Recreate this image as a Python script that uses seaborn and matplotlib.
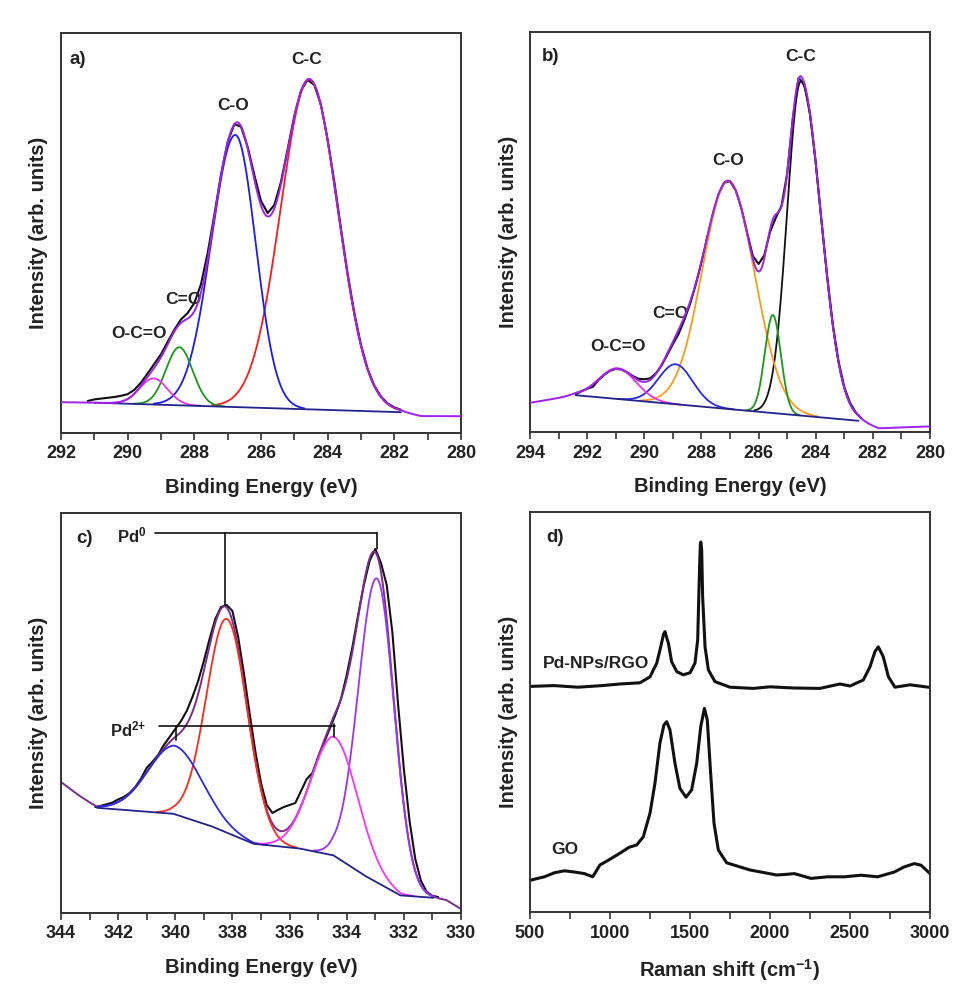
import numpy as np
import matplotlib
matplotlib.use("Agg")
import matplotlib.pyplot as plt
import seaborn as sns

sns.set_theme(style="white")
plt.rcParams['font.family'] = ['Liberation Sans', 'DejaVu Sans']
plt.rcParams['font.weight'] = 'bold'
plt.rcParams['mathtext.fontset'] = 'custom'
plt.rcParams['mathtext.rm'] = 'Liberation Sans:bold'
plt.rcParams['mathtext.bf'] = 'Liberation Sans:bold'
plt.rcParams['mathtext.it'] = 'Liberation Sans:bold'

# ---------------- Panel a: C1s (GO) ----------------
a_peak_names = ['C-C', 'C-O', 'C=O', 'O-C=O']
a_peak_center = [284.55, 286.77, 288.45, 289.22]
a_peak_height = [82.5, 68.0, 14.5, 6.5]
a_peak_sigma_hi = [0.86, 0.72, 0.40, 0.42]   # high binding-energy side
a_peak_sigma_lo = [0.86, 0.61, 0.40, 0.42]   # low binding-energy side
a_peak_color = ['#ff1a1a', '#1a1aff', '#1a9a1a', '#ee33ee']
a_base_x = [292.0, 291.1, 290.6, 281.8, 281.2, 280.0]
a_base_y = [7.7, 7.6, 7.5, 5.2, 4.2, 4.2]
a_data_x = [291.2, 291.0, 290.8, 290.6, 290.4, 290.2, 290.0, 289.8, 289.6, 289.4, 289.2,
            289.0, 288.8, 288.6, 288.4, 288.2, 288.0, 287.8, 287.6, 287.4, 287.2, 287.0,
            286.8, 286.6, 286.4, 286.2, 286.0, 285.8, 285.6, 285.4, 285.2, 285.0, 284.8,
            284.6, 284.4, 284.2, 284.0, 283.8, 283.6, 283.4, 283.2, 283.0, 282.8, 282.6,
            282.4, 282.2, 282.0, 281.8]
a_data_y = [8.0, 8.4, 8.6, 8.8, 9.0, 9.3, 9.7, 10.8, 12.6, 14.9, 17.3, 19.7, 22.8, 25.8,
            28.4, 30.0, 32.5, 37.2, 45.0, 54.5, 64.6, 72.8, 77.2, 76.6, 71.5, 64.5, 58.0,
            55.0, 57.0, 62.8, 71.0, 79.3, 85.6, 88.3, 87.0, 82.0, 73.3, 62.8, 51.0, 39.8,
            30.0, 22.0, 16.0, 11.8, 9.1, 7.4, 6.4, 5.8]
a_label_x = [284.62, 286.85, 288.32, 289.67]
a_label_y = [93.3, 82.0, 33.3, 25.0]

# ---------------- Panel b: C1s (Pd-NPs/RGO) ----------------
b_peak_names = ['C-C', 'C-O', 'C=O', 'O-C=O', '']
b_peak_center = [284.52, 287.06, 288.90, 290.93, 285.50]
b_peak_height = [83.5, 57.0, 10.0, 7.6, 24.5]
b_peak_sigma_hi = [0.48, 0.90, 0.60, 0.65, 0.28]
b_peak_sigma_lo = [0.70, 0.92, 0.60, 0.65, 0.28]
b_peak_color = ['#111111', '#ff9a1a', '#2a2aee', '#ee33ee', '#1a9a1a']
b_base_x = [294.0, 292.4, 282.5, 281.8, 280.0]
b_base_y = [7.3, 9.2, 2.8, 0.9, 1.4]
b_data_x = [292.4, 292.2, 292.0, 291.8, 291.6, 291.4, 291.2, 291.0, 290.8, 290.6, 290.4,
            290.2, 290.0, 289.8, 289.6, 289.4, 289.2, 289.0, 288.8, 288.6, 288.4, 288.2,
            288.0, 287.8, 287.6, 287.4, 287.2, 287.0, 286.8, 286.6, 286.4, 286.2, 286.0,
            285.8, 285.6, 285.4, 285.2, 285.0, 284.8, 284.6, 284.4, 284.2, 284.0, 283.8,
            283.6, 283.4, 283.2, 283.0, 282.8, 282.6, 282.4]
b_data_y = [9.4, 10.2, 10.8, 11.3, 13.0, 14.3, 15.3, 15.8, 15.6, 14.9, 14.0, 13.3, 13.2,
            13.4, 14.6, 16.6, 19.2, 22.0, 24.5, 28.0, 32.0, 36.8, 42.3, 48.5, 54.5, 59.4,
            62.3, 62.7, 60.4, 55.9, 49.8, 44.0, 42.0, 44.2, 50.0, 53.5, 56.5, 64.5, 78.5,
            88.5, 87.0, 79.6, 67.4, 53.0, 39.0, 26.8, 17.6, 11.2, 7.3, 4.9, 3.4]
b_label_x = [284.54, 287.06, 289.10, 290.93]
b_label_y = [93.9, 67.8, 29.7, 21.3]

# ---------------- Panel c: Pd3d ----------------
c_peak_center = [338.19, 340.00, 332.94, 334.42]
c_peak_height = [53.4, 17.1, 76.0, 29.8]
c_peak_sigma_hi = [0.72, 0.95, 0.65, 0.82]
c_peak_sigma_lo = [0.72, 0.95, 0.60, 0.82]
c_peak_color = ['#ff2a1a', '#2a2aee', '#9a33ff', '#ff33ff']
c_base_x = [344.0, 343.4, 342.74, 340.06, 338.66, 337.26, 335.62, 334.46, 333.29,
            332.12, 330.96, 330.5, 330.0]
c_base_y = [32.75, 29.5, 26.3, 24.8, 21.5, 17.3, 16.1, 14.4, 9.0, 4.4, 3.8, 3.2, 1.0]
c_data_x = [342.8, 342.6, 342.4, 342.2, 342.0, 341.8, 341.6, 341.4, 341.2, 341.0, 340.8,
            340.6, 340.4, 340.2, 340.0, 339.8, 339.6, 339.4, 339.2, 339.0, 338.8, 338.6,
            338.4, 338.2, 338.0, 337.8, 337.6, 337.4, 337.2, 337.0, 336.8, 336.6, 336.4,
            336.2, 336.0, 335.8, 335.6, 335.4, 335.2, 335.0, 334.8, 334.6, 334.4, 334.2,
            334.0, 333.8, 333.6, 333.4, 333.2, 333.0, 332.8, 332.6, 332.4, 332.2, 332.0,
            331.8, 331.6, 331.4, 331.2, 331.0, 330.8]
c_data_y = [26.5, 26.8, 27.2, 27.6, 28.4, 29.0, 30.0, 31.5, 33.6, 36.3, 37.8, 39.5, 42.0,
            44.0, 46.0, 48.0, 50.5, 54.0, 58.0, 63.0, 68.5, 73.5, 76.5, 77.0, 75.5, 69.0,
            60.0, 50.0, 40.5, 32.5, 27.0, 25.0, 25.8, 26.5, 27.0, 27.5, 30.5, 33.5, 35.0,
            39.0, 42.5, 46.0, 49.5, 53.5, 59.5, 66.5, 74.5, 82.0, 88.0, 91.0, 87.5, 82.0,
            70.0, 52.0, 36.0, 23.0, 13.5, 8.0, 5.3, 4.3, 4.0]

# ---------------- Panel d: Raman ----------------
d_rgo_x = [500, 650, 800, 950, 1062, 1187, 1250, 1292, 1317, 1335, 1344, 1355, 1365, 1385,
           1417, 1458, 1500, 1531, 1548, 1556, 1562, 1565, 1568, 1573, 1579, 1594, 1615,
           1656, 1750, 1896, 2000, 2150, 2312, 2437, 2500, 2583, 2625, 2656, 2677, 2708,
           2740, 2781, 2875, 2990, 3000]
d_rgo_y = [56.4, 56.6, 56.2, 56.6, 57.0, 57.3, 58.8, 62.2, 66.3, 69.5, 70.1, 68.5, 67.2,
           62.6, 60.1, 59.3, 59.8, 62.2, 68.0, 80.5, 89.0, 92.2, 92.5, 90.5, 78.8, 66.3,
           60.5, 57.6, 56.2, 55.9, 56.3, 56.0, 55.9, 57.0, 56.5, 58.0, 61.3, 65.1, 66.3,
           63.8, 58.8, 56.2, 56.8, 56.2, 56.2]
d_go_x = [500, 548, 590, 652, 715, 777, 840, 892, 937, 1000, 1062, 1120, 1167, 1208, 1250,
          1281, 1312, 1337, 1354, 1375, 1406, 1437, 1475, 1510, 1542, 1567, 1590, 1608,
          1629, 1650, 1677, 1729, 1875, 2042, 2100, 2152, 2256, 2360, 2465, 2569, 2673,
          2777, 2840, 2902, 2944, 3000]
d_go_y = [7.9, 8.4, 8.8, 9.8, 10.3, 10.0, 9.6, 8.8, 11.75, 13.2, 14.7, 16.2, 16.75, 18.8,
          24.7, 32.2, 42.2, 46.75, 47.6, 45.5, 37.2, 30.9, 28.7, 30.5, 37.2, 46.3, 50.9,
          48.0, 34.7, 22.2, 15.5, 12.3, 10.5, 9.25, 9.4, 9.6, 8.4, 8.8, 8.8, 9.2, 8.8,
          10.0, 11.3, 12.1, 11.7, 9.6]

ENV_COLOR = '#a020f0'
BASE_COLOR = '#22228a'
TEXT_COLOR = '#222222'
LW = 1.3


def agauss(x, c, h, shi, slo):
    s = np.where(x >= c, shi, slo)
    return h * np.exp(-(x - c) ** 2 / (2 * s ** 2))


def style_axes(ax, xlim, major, minor, xlabel):
    ax.set_xlim(*xlim)
    ax.set_ylim(0, 100)
    ax.set_yticks([])
    ax.xaxis.set_major_locator(matplotlib.ticker.MultipleLocator(major))
    ax.xaxis.set_minor_locator(matplotlib.ticker.MultipleLocator(minor))
    ax.tick_params(axis='x', which='both', direction='out', bottom=True, top=False,
                   length=5, width=1.2, color='#333333', labelsize=13, pad=4,
                   labelcolor=TEXT_COLOR)
    for lab in ax.get_xticklabels():
        lab.set_fontweight('bold')
    for sp in ax.spines.values():
        sp.set_color('#333333')
        sp.set_linewidth(1.4)
    ax.set_xlabel(xlabel, fontsize=14.5, fontweight='bold', labelpad=11, color=TEXT_COLOR)
    ax.set_ylabel('Intensity (arb. units)', fontsize=14.5, fontweight='bold', labelpad=9,
                  color=TEXT_COLOR)


def line(ax, x, y, color, lw=LW, z=2):
    sns.lineplot(x=np.asarray(x), y=np.asarray(y), ax=ax, color=color, lw=lw,
                 sort=False, estimator=None, zorder=z)


def xps_panel(ax, centers, heights, shi, slo, colors, bx, by, base_range, dx, dy, xlim,
              env_color=ENV_COLOR, env_z=5, comp_z=3):
    xg = np.linspace(min(xlim), max(xlim), 1400)
    base = np.interp(xg, bx[::-1], by[::-1])
    env = base.copy()
    comps = []
    for c, h, s1, s2 in zip(centers, heights, shi, slo):
        g = agauss(xg, c, h, s1, s2)
        env += g
        comps.append(g)
    line(ax, dx, dy, '#111111', lw=1.5, z=2)
    for g, c, s1, s2, col in zip(comps, centers, shi, slo, colors):
        lo = max(c - 3.4 * s2, base_range[1])
        hi = min(c + 3.4 * s1, base_range[0])
        m = (xg >= lo) & (xg <= hi)
        line(ax, xg[m], (base + g)[m], col, z=comp_z)
    m = (xg >= base_range[1]) & (xg <= base_range[0])
    line(ax, xg[m], base[m], BASE_COLOR, z=comp_z + 0.5)
    line(ax, xg, env, env_color, lw=1.4, z=env_z)


fig = plt.figure(figsize=(9.58, 9.92), dpi=100)
W, H = 958, 992
ax_a = fig.add_axes([61 / W, (H - 433) / H, 400 / W, 400 / H])
ax_b = fig.add_axes([530 / W, (H - 432) / H, 400 / W, 400 / H])
ax_c = fig.add_axes([61 / W, (H - 913) / H, 400 / W, 400 / H])
ax_d = fig.add_axes([530 / W, (H - 912) / H, 400 / W, 400 / H])

# a
xps_panel(ax_a, a_peak_center, a_peak_height, a_peak_sigma_hi, a_peak_sigma_lo, a_peak_color,
          a_base_x, a_base_y, (291.0, 281.8), a_data_x, a_data_y, (292, 280))
style_axes(ax_a, (292, 280), 2, 1, 'Binding Energy (eV)')
for name, x, y in zip(a_peak_names, a_label_x, a_label_y):
    ax_a.text(x, y, name, ha='center', va='center', fontsize=12.5, fontweight='bold', color=TEXT_COLOR)
ax_a.text(291.75, 93.3, 'a)', ha='left', va='center', fontsize=13.5, fontweight='bold', color=TEXT_COLOR)

# b
xps_panel(ax_b, b_peak_center, b_peak_height, b_peak_sigma_hi, b_peak_sigma_lo, b_peak_color,
          b_base_x, b_base_y, (292.4, 282.5), b_data_x, b_data_y, (294, 280))
style_axes(ax_b, (294, 280), 2, 1, 'Binding Energy (eV)')
for name, x, y in zip(b_peak_names[:4], b_label_x, b_label_y):
    ax_b.text(x, y, name, ha='center', va='center', fontsize=12.5, fontweight='bold', color=TEXT_COLOR)
ax_b.text(293.6, 93.9, 'b)', ha='left', va='center', fontsize=13.5, fontweight='bold', color=TEXT_COLOR)

# c
xps_panel(ax_c, c_peak_center, c_peak_height, c_peak_sigma_hi, c_peak_sigma_lo, c_peak_color,
          c_base_x, c_base_y, (342.74, 330.96), c_data_x, c_data_y, (344, 330),
          env_color='#7b2d8e', env_z=2.5, comp_z=4)
style_axes(ax_c, (344, 330), 2, 1, 'Binding Energy (eV)')
ax_c.text(343.45, 93.6, 'c)', ha='left', va='center', fontsize=13.5, fontweight='bold', color=TEXT_COLOR)
ax_c.text(341.0, 94.3, r'Pd$^{0}$', ha='right', va='center', fontsize=12, fontweight='bold', color=TEXT_COLOR)
ax_c.text(341.0, 46.0, r'Pd$^{2{+}}$', ha='right', va='center', fontsize=12, fontweight='bold', color=TEXT_COLOR)
for xs, ys in [([340.7, 332.94], [95.1, 95.1]), ([338.25, 338.25], [95.1, 76.9]),
               ([332.94, 332.94], [95.1, 91.0]), ([340.58, 334.42], [46.75, 46.75]),
               ([339.97, 339.97], [46.75, 43.2]), ([334.46, 334.46], [47.3, 44.0])]:
    ax_c.plot(xs, ys, color='#111111', lw=1.2, zorder=6)

# d
line(ax_d, d_rgo_x, d_rgo_y, '#111111', lw=2.2)
line(ax_d, d_go_x, d_go_y, '#111111', lw=2.2)
style_axes(ax_d, (500, 3000), 500, 250, r'Raman shift (cm$^{-1}$)')
ax_d.text(912, 62.2, 'Pd-NPs/RGO', ha='center', va='center', fontsize=12.5, fontweight='bold', color=TEXT_COLOR)
ax_d.text(715, 15.6, 'GO', ha='center', va='center', fontsize=12.5, fontweight='bold', color=TEXT_COLOR)
ax_d.text(600, 93.6, 'd)', ha='left', va='center', fontsize=13.5, fontweight='bold', color=TEXT_COLOR)

fig.savefig('out.png', dpi=100)
